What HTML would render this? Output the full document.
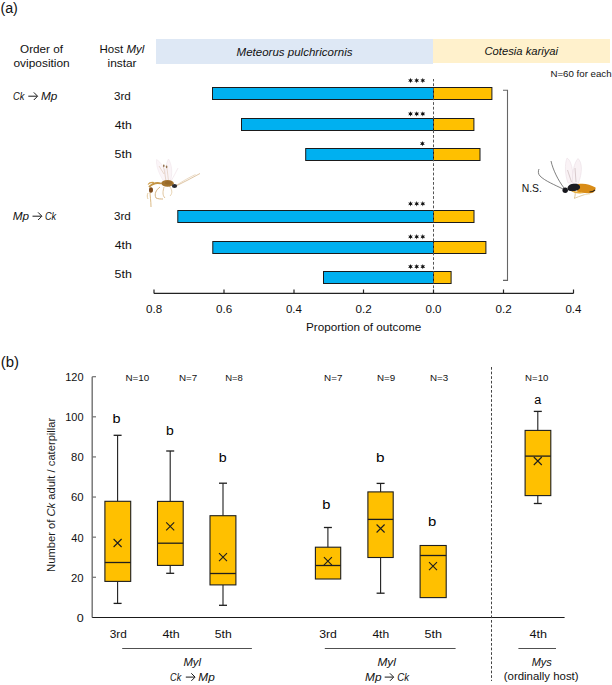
<!DOCTYPE html>
<html><head><meta charset="utf-8"><style>
html,body{margin:0;padding:0;background:#fff;}
svg{display:block;font-family:"Liberation Sans",sans-serif;}
</style></head><body>
<svg width="612" height="685" viewBox="0 0 612 685">
<rect width="612" height="685" fill="#fff"/>
<defs><filter id="bl" x="-20%" y="-20%" width="140%" height="140%"><feGaussianBlur stdDeviation="0.4"/></filter></defs>
<g filter="url(#bl)">
<!-- left wasp wings -->
<path d="M163.5 181 C159 174 156 166 156.5 159.5 C161 162 166 170 168 180 Z" fill="#fbf5f8" stroke="#efe2e9" stroke-width="0.5"/>
<path d="M166 181 C165 172 165.5 164 168.5 159 C171.5 164 173 172 170.5 181 Z" fill="#faf4f7" stroke="#ece0e6" stroke-width="0.5"/>
<path d="M166 181 L163.5 166 M168.5 181 L166.8 166.5 M164 174 L159 166" stroke="#d7bba4" stroke-width="0.5" fill="none"/>
<ellipse cx="163.8" cy="165.8" rx="0.8" ry="1.4" fill="#93714e"/>
<ellipse cx="166.6" cy="166.8" rx="0.8" ry="1.4" fill="#93714e"/>
<path d="M171 181 C174 176 176 172 178 168" stroke="#efdfe6" stroke-width="0.6" fill="none"/>
<!-- left antennae -->
<path d="M176 186 C184 182 192 178 200 173.5" stroke="#c8a06a" stroke-width="0.6" fill="none"/>
<path d="M176 185.5 C183 181 190 177 195.5 174.5" stroke="#d8b88e" stroke-width="0.5" fill="none"/>
<!-- left legs -->
<path d="M160 187 C156 190 154 194 156 198 C158 199 161 199 163 199" stroke="#caa063" stroke-width="0.8" fill="none"/>
<path d="M164 187 C163 191 162 195 165 198" stroke="#d3ac73" stroke-width="0.7" fill="none"/>
<path d="M169 186 C172 189 173 193 170 196" stroke="#d8b884" stroke-width="0.6" fill="none"/>
<path d="M150 191 C150 196 151 201 151 207" stroke="#d2a867" stroke-width="0.8" fill="none"/>
<path d="M148 193 C147 195 147 197 148 199" stroke="#d2a867" stroke-width="0.6" fill="none"/>
<!-- petiole / abdomen -->
<path d="M161 183.5 C156 182 152 184 149 187" stroke="#c39445" stroke-width="1.8" fill="none"/>
<path d="M154 182.5 C151 182 149 183 148 184.5" stroke="#cf9f4c" stroke-width="1.1" fill="none"/>
<ellipse cx="151" cy="190" rx="2" ry="2.8" fill="#7d4a1c"/>
<!-- thorax -->
<ellipse cx="167.5" cy="183.3" rx="6.3" ry="3.4" fill="#a4742f"/>
<ellipse cx="168.5" cy="182.8" rx="3.5" ry="1.8" fill="#8f6428" opacity="0.6"/>
<!-- head -->
<ellipse cx="174.5" cy="186" rx="2.6" ry="1.9" fill="#2a2b33"/>
</g>
<g filter="url(#bl)">
<!-- right wasp wings -->
<path d="M568 183 C565 175 564.5 164 567 158 C571 160 573.5 170 573 183 Z" fill="#faf3f6" stroke="#e8dbe2" stroke-width="0.5"/>
<path d="M572.5 183 C572 173 574 163 578 158.5 C582 162 583 172 578 184 Z" fill="#f9f2f5" stroke="#e6d8e0" stroke-width="0.5"/>
<path d="M567.5 170 L571.5 182 M575 168 L576 182" stroke="#b7a2a4" stroke-width="0.5" fill="none"/>
<!-- right antennae -->
<path d="M563 189 C555 185 545 181 540 176 C538 174 538 171 539 169" stroke="#3a3a3a" stroke-width="0.65" fill="none"/>
<path d="M564 188 C558 180 553 170 551 161" stroke="#3a3a3a" stroke-width="0.65" fill="none"/>
<!-- legs -->
<path d="M592 192.5 C586 194 580 196 574 198.5" stroke="#dcc69e" stroke-width="0.9" fill="none"/>
<path d="M575 192 C575.5 194 575 196 574.5 198" stroke="#d9b77a" stroke-width="0.8" fill="none"/>
<path d="M581 192 C583 195 586 195 590 194" stroke="#f0e2c0" stroke-width="0.9" fill="none"/>
<!-- abdomen -->
<path d="M578 184 C584 183 590 184 595.5 187.5 C596 189 595 191 593 192.8 C587 193.5 581 193 577 191.5 Z" fill="#d98c16"/>
<path d="M571 190 C574 192.5 578 193 582 192.5" stroke="#e8b040" stroke-width="1.6" fill="none"/>
<path d="M589.5 192 C591.5 192 593.5 191.5 595 190" stroke="#2f2418" stroke-width="1.1" fill="none"/>
<!-- thorax -->
<path d="M567.5 188 C568 185 571 183.6 575 183.7 C578.5 183.8 580.5 185.5 580 188 C579 190.5 574 191.5 570 191 C568 190.6 567.3 189.5 567.5 188 Z" fill="#1b1b22"/>
<!-- head -->
<circle cx="565.2" cy="190.2" r="2.7" fill="#18181d"/>
</g>

<text transform="translate(0.41 13.00) scale(0.9861 1)" font-size="14.50" fill="#111"><tspan>(a)</tspan></text>
<text transform="translate(20.05 52.70) scale(1.1256 1)" font-size="10.40" fill="#111"><tspan>Order of</tspan></text>
<text transform="translate(13.50 66.70) scale(1.1452 1)" font-size="10.40" fill="#111"><tspan>oviposition</tspan></text>
<text transform="translate(99.56 52.60) scale(1.1072 1)" font-size="10.40" fill="#111"><tspan>Host </tspan><tspan font-style="italic">Myl</tspan></text>
<text transform="translate(107.50 67.00) scale(1.1439 1)" font-size="10.40" fill="#111"><tspan>instar</tspan></text>
<rect x="156.00" y="39.00" width="277.00" height="25.00" fill="#DEE8F5"/>
<rect x="433.00" y="39.00" width="177.00" height="24.00" fill="#FFF1CC"/>
<text transform="translate(236.54 55.80) scale(1.1097 1)" font-size="10.40" fill="#111"><tspan font-style="italic">Meteorus pulchricornis</tspan></text>
<text transform="translate(484.38 54.60) scale(1.0815 1)" font-size="10.40" fill="#111"><tspan font-style="italic">Cotesia kariyai</tspan></text>
<text transform="translate(550.40 76.60) scale(1.0324 1)" font-size="9.40" fill="#111"><tspan>N=60 for each</tspan></text>
<text transform="translate(12.89 99.60) scale(0.8987 1)" font-size="10.40" fill="#111"><tspan font-style="italic">Ck</tspan></text>
<path d="M28.30 96.20H37.10M33.80 92.40L37.60 96.20L33.80 100.00" fill="none" stroke="#1a1a1a" stroke-width="1" stroke-linejoin="miter"/>
<text transform="translate(41.04 99.60) scale(1.1312 1)" font-size="10.40" fill="#111"><tspan font-style="italic">Mp</tspan></text>
<text transform="translate(12.64 219.60) scale(1.1312 1)" font-size="10.40" fill="#111"><tspan font-style="italic">Mp</tspan></text>
<path d="M32.50 216.20H41.40M38.10 212.40L41.90 216.20L38.10 220.00" fill="none" stroke="#1a1a1a" stroke-width="1" stroke-linejoin="miter"/>
<text transform="translate(45.00 219.60) scale(0.8828 1)" font-size="10.40" fill="#111"><tspan font-style="italic">Ck</tspan></text>
<text transform="translate(113.96 99.90) scale(1.1169 1)" font-size="10.40" fill="#111"><tspan>3rd</tspan></text>
<text transform="translate(114.72 128.70) scale(1.1816 1)" font-size="10.40" fill="#111"><tspan>4th</tspan></text>
<text transform="translate(114.50 158.00) scale(1.1972 1)" font-size="10.40" fill="#111"><tspan>5th</tspan></text>
<text transform="translate(113.96 220.20) scale(1.1169 1)" font-size="10.40" fill="#111"><tspan>3rd</tspan></text>
<text transform="translate(114.72 249.00) scale(1.1816 1)" font-size="10.40" fill="#111"><tspan>4th</tspan></text>
<text transform="translate(114.50 278.30) scale(1.1972 1)" font-size="10.40" fill="#111"><tspan>5th</tspan></text>
<rect x="212.50" y="87.50" width="221.00" height="12.00" fill="#00B0F0" stroke="#1b1b1b" stroke-width="1"/>
<rect x="433.50" y="87.50" width="58.40" height="12.00" fill="#FFC000" stroke="#1b1b1b" stroke-width="1"/>
<rect x="241.50" y="118.50" width="192.00" height="12.00" fill="#00B0F0" stroke="#1b1b1b" stroke-width="1"/>
<rect x="433.50" y="118.50" width="40.40" height="12.00" fill="#FFC000" stroke="#1b1b1b" stroke-width="1"/>
<rect x="305.70" y="148.50" width="127.80" height="12.00" fill="#00B0F0" stroke="#1b1b1b" stroke-width="1"/>
<rect x="433.50" y="148.50" width="46.50" height="12.00" fill="#FFC000" stroke="#1b1b1b" stroke-width="1"/>
<rect x="177.80" y="210.50" width="255.70" height="12.00" fill="#00B0F0" stroke="#1b1b1b" stroke-width="1"/>
<rect x="433.50" y="210.50" width="40.50" height="12.00" fill="#FFC000" stroke="#1b1b1b" stroke-width="1"/>
<rect x="212.80" y="241.50" width="220.70" height="12.00" fill="#00B0F0" stroke="#1b1b1b" stroke-width="1"/>
<rect x="433.50" y="241.50" width="52.40" height="12.00" fill="#FFC000" stroke="#1b1b1b" stroke-width="1"/>
<rect x="323.50" y="271.50" width="110.00" height="12.00" fill="#00B0F0" stroke="#1b1b1b" stroke-width="1"/>
<rect x="433.50" y="271.50" width="17.60" height="12.00" fill="#FFC000" stroke="#1b1b1b" stroke-width="1"/>
<line x1="433.5" y1="79" x2="433.5" y2="293" stroke="#555" stroke-width="1" stroke-dasharray="2.8 1.9" stroke-dashoffset="0.4"/>
<polygon points="410.50,77.80 409.89,79.45 408.16,79.15 409.29,80.50 408.16,81.85 409.89,81.55 410.50,83.20 411.11,81.55 412.84,81.85 411.71,80.50 412.84,79.15 411.11,79.45" fill="#111"/>
<polygon points="416.70,77.80 416.09,79.45 414.36,79.15 415.49,80.50 414.36,81.85 416.09,81.55 416.70,83.20 417.31,81.55 419.04,81.85 417.91,80.50 419.04,79.15 417.31,79.45" fill="#111"/>
<polygon points="422.80,77.80 422.19,79.45 420.46,79.15 421.59,80.50 420.46,81.85 422.19,81.55 422.80,83.20 423.41,81.55 425.14,81.85 424.01,80.50 425.14,79.15 423.41,79.45" fill="#111"/>
<polygon points="410.50,111.20 409.89,112.85 408.16,112.55 409.29,113.90 408.16,115.25 409.89,114.95 410.50,116.60 411.11,114.95 412.84,115.25 411.71,113.90 412.84,112.55 411.11,112.85" fill="#111"/>
<polygon points="416.70,111.20 416.09,112.85 414.36,112.55 415.49,113.90 414.36,115.25 416.09,114.95 416.70,116.60 417.31,114.95 419.04,115.25 417.91,113.90 419.04,112.55 417.31,112.85" fill="#111"/>
<polygon points="422.80,111.20 422.19,112.85 420.46,112.55 421.59,113.90 420.46,115.25 422.19,114.95 422.80,116.60 423.41,114.95 425.14,115.25 424.01,113.90 425.14,112.55 423.41,112.85" fill="#111"/>
<polygon points="422.40,140.90 421.79,142.55 420.06,142.25 421.19,143.60 420.06,144.95 421.79,144.65 422.40,146.30 423.01,144.65 424.74,144.95 423.61,143.60 424.74,142.25 423.01,142.55" fill="#111"/>
<polygon points="410.50,201.10 409.89,202.75 408.16,202.45 409.29,203.80 408.16,205.15 409.89,204.85 410.50,206.50 411.11,204.85 412.84,205.15 411.71,203.80 412.84,202.45 411.11,202.75" fill="#111"/>
<polygon points="416.70,201.10 416.09,202.75 414.36,202.45 415.49,203.80 414.36,205.15 416.09,204.85 416.70,206.50 417.31,204.85 419.04,205.15 417.91,203.80 419.04,202.45 417.31,202.75" fill="#111"/>
<polygon points="422.80,201.10 422.19,202.75 420.46,202.45 421.59,203.80 420.46,205.15 422.19,204.85 422.80,206.50 423.41,204.85 425.14,205.15 424.01,203.80 425.14,202.45 423.41,202.75" fill="#111"/>
<polygon points="410.50,234.10 409.89,235.75 408.16,235.45 409.29,236.80 408.16,238.15 409.89,237.85 410.50,239.50 411.11,237.85 412.84,238.15 411.71,236.80 412.84,235.45 411.11,235.75" fill="#111"/>
<polygon points="416.70,234.10 416.09,235.75 414.36,235.45 415.49,236.80 414.36,238.15 416.09,237.85 416.70,239.50 417.31,237.85 419.04,238.15 417.91,236.80 419.04,235.45 417.31,235.75" fill="#111"/>
<polygon points="422.80,234.10 422.19,235.75 420.46,235.45 421.59,236.80 420.46,238.15 422.19,237.85 422.80,239.50 423.41,237.85 425.14,238.15 424.01,236.80 425.14,235.45 423.41,235.75" fill="#111"/>
<polygon points="410.50,263.90 409.89,265.55 408.16,265.25 409.29,266.60 408.16,267.95 409.89,267.65 410.50,269.30 411.11,267.65 412.84,267.95 411.71,266.60 412.84,265.25 411.11,265.55" fill="#111"/>
<polygon points="416.70,263.90 416.09,265.55 414.36,265.25 415.49,266.60 414.36,267.95 416.09,267.65 416.70,269.30 417.31,267.65 419.04,267.95 417.91,266.60 419.04,265.25 417.31,265.55" fill="#111"/>
<polygon points="422.80,263.90 422.19,265.55 420.46,265.25 421.59,266.60 420.46,267.95 422.19,267.65 422.80,269.30 423.41,267.65 425.14,267.95 424.01,266.60 425.14,265.25 423.41,265.55" fill="#111"/>
<line x1="154.00" y1="293.40" x2="573.50" y2="293.40" stroke="#222" stroke-width="1.2"/>
<line x1="154.00" y1="289.50" x2="154.00" y2="293.40" stroke="#222" stroke-width="1.2"/>
<line x1="224.00" y1="289.50" x2="224.00" y2="293.40" stroke="#222" stroke-width="1.2"/>
<line x1="294.00" y1="289.50" x2="294.00" y2="293.40" stroke="#222" stroke-width="1.2"/>
<line x1="363.50" y1="289.50" x2="363.50" y2="293.40" stroke="#222" stroke-width="1.2"/>
<line x1="433.50" y1="289.50" x2="433.50" y2="293.40" stroke="#222" stroke-width="1.2"/>
<line x1="503.50" y1="289.50" x2="503.50" y2="293.40" stroke="#222" stroke-width="1.2"/>
<line x1="573.50" y1="289.50" x2="573.50" y2="293.40" stroke="#222" stroke-width="1.2"/>
<text transform="translate(145.95 312.60) scale(1.1174 1)" font-size="10.40" fill="#111"><tspan>0.8</tspan></text>
<text transform="translate(215.95 312.60) scale(1.1182 1)" font-size="10.40" fill="#111"><tspan>0.6</tspan></text>
<text transform="translate(285.95 312.60) scale(1.1056 1)" font-size="10.40" fill="#111"><tspan>0.4</tspan></text>
<text transform="translate(355.44 312.60) scale(1.1234 1)" font-size="10.40" fill="#111"><tspan>0.2</tspan></text>
<text transform="translate(425.45 312.60) scale(1.1140 1)" font-size="10.40" fill="#111"><tspan>0.0</tspan></text>
<text transform="translate(495.44 312.60) scale(1.1234 1)" font-size="10.40" fill="#111"><tspan>0.2</tspan></text>
<text transform="translate(565.45 312.60) scale(1.1056 1)" font-size="10.40" fill="#111"><tspan>0.4</tspan></text>
<text transform="translate(305.94 330.60) scale(1.1276 1)" font-size="10.40" fill="#111"><tspan>Proportion of outcome</tspan></text>
<polyline points="503,90.2 507.5,90.2 507.5,280.4 503,280.4" fill="none" stroke="#666" stroke-width="1.1"/>
<text transform="translate(521.65 191.60) scale(0.9984 1)" font-size="10.40" fill="#111"><tspan>N.S.</tspan></text>
<text transform="translate(0.67 367.00) scale(1.0301 1)" font-size="14.50" fill="#111"><tspan>(b)</tspan></text>
<line x1="92.20" y1="376.70" x2="92.20" y2="617.40" stroke="#707070" stroke-width="1.4"/>
<line x1="92.20" y1="577.28" x2="96.00" y2="577.28" stroke="#707070" stroke-width="1.2"/>
<line x1="92.20" y1="537.17" x2="96.00" y2="537.17" stroke="#707070" stroke-width="1.2"/>
<line x1="92.20" y1="497.05" x2="96.00" y2="497.05" stroke="#707070" stroke-width="1.2"/>
<line x1="92.20" y1="456.93" x2="96.00" y2="456.93" stroke="#707070" stroke-width="1.2"/>
<line x1="92.20" y1="416.82" x2="96.00" y2="416.82" stroke="#707070" stroke-width="1.2"/>
<line x1="92.20" y1="376.70" x2="96.00" y2="376.70" stroke="#707070" stroke-width="1.2"/>
<text transform="translate(76.71 621.80) scale(1.2070 1)" font-size="10.40" fill="#111"><tspan>0</tspan></text>
<text transform="translate(71.03 581.68) scale(1.0903 1)" font-size="10.40" fill="#111"><tspan>20</tspan></text>
<text transform="translate(71.35 541.57) scale(1.0623 1)" font-size="10.40" fill="#111"><tspan>40</tspan></text>
<text transform="translate(71.02 501.45) scale(1.0914 1)" font-size="10.40" fill="#111"><tspan>60</tspan></text>
<text transform="translate(71.12 461.33) scale(1.0829 1)" font-size="10.40" fill="#111"><tspan>80</tspan></text>
<text transform="translate(65.26 421.22) scale(1.0587 1)" font-size="10.40" fill="#111"><tspan>100</tspan></text>
<text transform="translate(65.26 381.10) scale(1.0587 1)" font-size="10.40" fill="#111"><tspan>120</tspan></text>
<line x1="92.20" y1="617.50" x2="564.60" y2="617.50" stroke="#1a1a1a" stroke-width="1.2"/>
<line x1="491.50" y1="367.00" x2="491.50" y2="681.00" stroke="#444" stroke-width="1" stroke-dasharray="2.7 1.9"/>
<g transform="translate(55 571.00) rotate(-90)"><text transform="translate(-0.92 0) scale(1.0764 1)" font-size="10.40" fill="#1a1a1a">Number of <tspan font-style="italic">Ck</tspan> adult / caterpillar</text></g>
<text transform="translate(125.39 381.20) scale(1.0694 1)" font-size="9.20" fill="#111"><tspan>N=10</tspan></text>
<text transform="translate(178.99 381.20) scale(1.0681 1)" font-size="9.20" fill="#111"><tspan>N=7</tspan></text>
<text transform="translate(225.22 381.20) scale(1.0325 1)" font-size="9.20" fill="#111"><tspan>N=8</tspan></text>
<text transform="translate(324.09 381.20) scale(1.0681 1)" font-size="9.20" fill="#111"><tspan>N=7</tspan></text>
<text transform="translate(376.90 381.20) scale(1.0663 1)" font-size="9.20" fill="#111"><tspan>N=9</tspan></text>
<text transform="translate(430.00 381.20) scale(1.0644 1)" font-size="9.20" fill="#111"><tspan>N=3</tspan></text>
<text transform="translate(525.11 381.20) scale(1.0458 1)" font-size="9.20" fill="#111"><tspan>N=10</tspan></text>
<line x1="117.60" y1="435.30" x2="117.60" y2="501.30" stroke="#1e1e1e" stroke-width="1.1"/>
<line x1="113.60" y1="435.30" x2="121.60" y2="435.30" stroke="#1e1e1e" stroke-width="1.3"/>
<line x1="117.60" y1="581.40" x2="117.60" y2="603.40" stroke="#1e1e1e" stroke-width="1.1"/>
<line x1="113.60" y1="603.40" x2="121.60" y2="603.40" stroke="#1e1e1e" stroke-width="1.3"/>
<rect x="104.90" y="501.30" width="25.80" height="80.10" fill="#FFC000" stroke="#1e1e1e" stroke-width="1.1"/>
<line x1="104.90" y1="562.50" x2="130.70" y2="562.50" stroke="#1e1e1e" stroke-width="1.3"/>
<path d="M113.60 539.00L121.60 547.00M113.60 547.00L121.60 539.00" stroke="#1e1e1e" stroke-width="1.1"/>
<line x1="170.20" y1="451.00" x2="170.20" y2="501.40" stroke="#1e1e1e" stroke-width="1.1"/>
<line x1="166.20" y1="451.00" x2="174.20" y2="451.00" stroke="#1e1e1e" stroke-width="1.3"/>
<line x1="170.20" y1="565.40" x2="170.20" y2="573.30" stroke="#1e1e1e" stroke-width="1.1"/>
<line x1="166.20" y1="573.30" x2="174.20" y2="573.30" stroke="#1e1e1e" stroke-width="1.3"/>
<rect x="157.50" y="501.40" width="25.70" height="64.00" fill="#FFC000" stroke="#1e1e1e" stroke-width="1.1"/>
<line x1="157.50" y1="543.20" x2="183.20" y2="543.20" stroke="#1e1e1e" stroke-width="1.3"/>
<path d="M166.20 522.30L174.20 530.30M166.20 530.30L174.20 522.30" stroke="#1e1e1e" stroke-width="1.1"/>
<line x1="223.00" y1="483.20" x2="223.00" y2="515.70" stroke="#1e1e1e" stroke-width="1.1"/>
<line x1="219.00" y1="483.20" x2="227.00" y2="483.20" stroke="#1e1e1e" stroke-width="1.3"/>
<line x1="223.00" y1="584.90" x2="223.00" y2="605.30" stroke="#1e1e1e" stroke-width="1.1"/>
<line x1="219.00" y1="605.30" x2="227.00" y2="605.30" stroke="#1e1e1e" stroke-width="1.3"/>
<rect x="210.00" y="515.70" width="25.90" height="69.20" fill="#FFC000" stroke="#1e1e1e" stroke-width="1.1"/>
<line x1="210.00" y1="573.50" x2="235.90" y2="573.50" stroke="#1e1e1e" stroke-width="1.3"/>
<path d="M219.00 553.10L227.00 561.10M219.00 561.10L227.00 553.10" stroke="#1e1e1e" stroke-width="1.1"/>
<line x1="327.90" y1="527.50" x2="327.90" y2="547.20" stroke="#1e1e1e" stroke-width="1.1"/>
<line x1="323.90" y1="527.50" x2="331.90" y2="527.50" stroke="#1e1e1e" stroke-width="1.3"/>
<rect x="315.40" y="547.20" width="25.30" height="31.80" fill="#FFC000" stroke="#1e1e1e" stroke-width="1.1"/>
<line x1="315.40" y1="565.50" x2="340.70" y2="565.50" stroke="#1e1e1e" stroke-width="1.3"/>
<path d="M323.90 557.10L331.90 565.10M323.90 565.10L331.90 557.10" stroke="#1e1e1e" stroke-width="1.1"/>
<line x1="380.60" y1="483.40" x2="380.60" y2="491.90" stroke="#1e1e1e" stroke-width="1.1"/>
<line x1="376.60" y1="483.40" x2="384.60" y2="483.40" stroke="#1e1e1e" stroke-width="1.3"/>
<line x1="380.60" y1="557.50" x2="380.60" y2="593.20" stroke="#1e1e1e" stroke-width="1.1"/>
<line x1="376.60" y1="593.20" x2="384.60" y2="593.20" stroke="#1e1e1e" stroke-width="1.3"/>
<rect x="367.90" y="491.90" width="25.30" height="65.60" fill="#FFC000" stroke="#1e1e1e" stroke-width="1.1"/>
<line x1="367.90" y1="519.40" x2="393.20" y2="519.40" stroke="#1e1e1e" stroke-width="1.3"/>
<path d="M376.60 524.50L384.60 532.50M376.60 532.50L384.60 524.50" stroke="#1e1e1e" stroke-width="1.1"/>
<rect x="420.10" y="545.50" width="26.10" height="52.10" fill="#FFC000" stroke="#1e1e1e" stroke-width="1.1"/>
<line x1="420.10" y1="555.50" x2="446.20" y2="555.50" stroke="#1e1e1e" stroke-width="1.3"/>
<path d="M429.00 562.20L437.00 570.20M429.00 570.20L437.00 562.20" stroke="#1e1e1e" stroke-width="1.1"/>
<line x1="537.80" y1="411.40" x2="537.80" y2="430.40" stroke="#1e1e1e" stroke-width="1.1"/>
<line x1="533.80" y1="411.40" x2="541.80" y2="411.40" stroke="#1e1e1e" stroke-width="1.3"/>
<line x1="537.80" y1="495.60" x2="537.80" y2="503.50" stroke="#1e1e1e" stroke-width="1.1"/>
<line x1="533.80" y1="503.50" x2="541.80" y2="503.50" stroke="#1e1e1e" stroke-width="1.3"/>
<rect x="525.10" y="430.40" width="25.70" height="65.20" fill="#FFC000" stroke="#1e1e1e" stroke-width="1.1"/>
<line x1="525.10" y1="456.10" x2="550.80" y2="456.10" stroke="#1e1e1e" stroke-width="1.3"/>
<path d="M533.80 457.00L541.80 465.00M533.80 465.00L541.80 457.00" stroke="#1e1e1e" stroke-width="1.1"/>
<text transform="translate(112.48 423.20) scale(1.1743 1)" font-size="12.30" fill="#000"><tspan>b</tspan></text>
<text transform="translate(166.00 434.60) scale(1.1382 1)" font-size="12.30" fill="#000"><tspan>b</tspan></text>
<text transform="translate(218.79 461.50) scale(1.1563 1)" font-size="12.30" fill="#000"><tspan>b</tspan></text>
<text transform="translate(322.26 509.00) scale(1.1924 1)" font-size="12.30" fill="#000"><tspan>b</tspan></text>
<text transform="translate(375.92 462.20) scale(1.2466 1)" font-size="12.30" fill="#000"><tspan>b</tspan></text>
<text transform="translate(428.05 525.70) scale(1.2105 1)" font-size="12.30" fill="#000"><tspan>b</tspan></text>
<text transform="translate(534.27 404.00) scale(1.0281 1)" font-size="12.30" fill="#000"><tspan>a</tspan></text>
<text transform="translate(109.75 637.80) scale(1.1384 1)" font-size="10.40" fill="#111"><tspan>3rd</tspan></text>
<text transform="translate(162.41 637.80) scale(1.2038 1)" font-size="10.40" fill="#111"><tspan>4th</tspan></text>
<text transform="translate(214.81 637.80) scale(1.1748 1)" font-size="10.40" fill="#111"><tspan>5th</tspan></text>
<text transform="translate(319.13 637.80) scale(1.1813 1)" font-size="10.40" fill="#111"><tspan>3rd</tspan></text>
<text transform="translate(372.42 637.80) scale(1.1595 1)" font-size="10.40" fill="#111"><tspan>4th</tspan></text>
<text transform="translate(424.50 637.80) scale(1.2122 1)" font-size="10.40" fill="#111"><tspan>5th</tspan></text>
<text transform="translate(529.51 637.80) scale(1.2112 1)" font-size="10.40" fill="#111"><tspan>4th</tspan></text>
<line x1="122.20" y1="648.50" x2="251.90" y2="648.50" stroke="#505050" stroke-width="1"/>
<line x1="324.80" y1="648.50" x2="455.60" y2="648.50" stroke="#505050" stroke-width="1"/>
<line x1="518.40" y1="648.50" x2="556.00" y2="648.50" stroke="#505050" stroke-width="1"/>
<text transform="translate(183.45 666.30) scale(1.0877 1)" font-size="10.40" fill="#111"><tspan font-style="italic">Myl</tspan></text>
<text transform="translate(170.10 680.80) scale(0.8748 1)" font-size="10.40" fill="#111"><tspan font-style="italic">Ck</tspan></text>
<path d="M185.80 677.10H194.60M191.30 673.30L195.10 677.10L191.30 680.90" fill="none" stroke="#1a1a1a" stroke-width="1" stroke-linejoin="miter"/>
<text transform="translate(198.33 680.80) scale(1.1385 1)" font-size="10.40" fill="#111"><tspan font-style="italic">Mp</tspan></text>
<text transform="translate(377.53 666.30) scale(1.1374 1)" font-size="10.40" fill="#111"><tspan font-style="italic">Myl</tspan></text>
<text transform="translate(365.03 680.80) scale(1.1385 1)" font-size="10.40" fill="#111"><tspan font-style="italic">Mp</tspan></text>
<path d="M384.70 677.10H393.20M389.90 673.30L393.70 677.10L389.90 680.90" fill="none" stroke="#1a1a1a" stroke-width="1" stroke-linejoin="miter"/>
<text transform="translate(397.17 680.80) scale(0.9305 1)" font-size="10.40" fill="#111"><tspan font-style="italic">Ck</tspan></text>
<text transform="translate(531.66 666.00) scale(1.0582 1)" font-size="10.40" fill="#111"><tspan font-style="italic">Mys</tspan></text>
<text transform="translate(503.79 680.40) scale(1.0984 1)" font-size="10.40" fill="#111"><tspan>(ordinally host)</tspan></text>
</svg></body></html>
